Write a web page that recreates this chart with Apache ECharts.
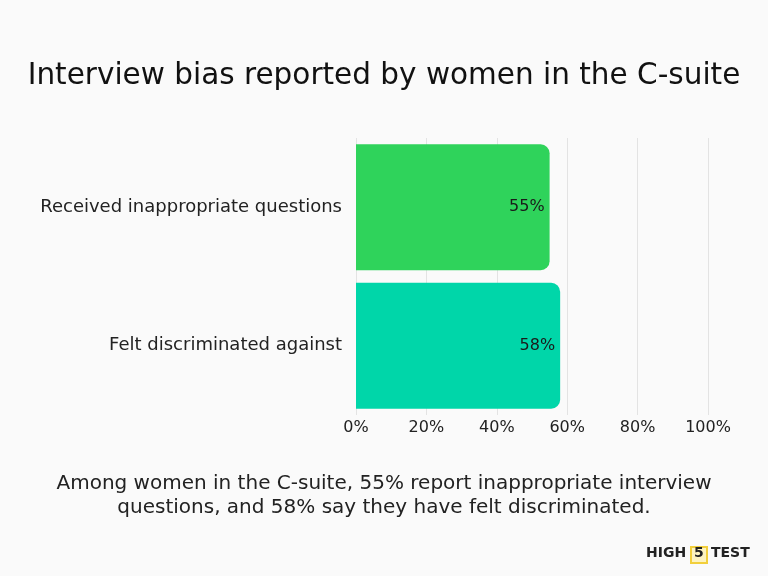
<!DOCTYPE html>
<html>
<head>
<meta charset="utf-8">
<script src="https://cdn.jsdelivr.net/npm/echarts@6/dist/echarts.min.js"></script>
<style>
  html, body { margin: 0; padding: 0; background: #fafafa; }
  #chart { width: 768px; height: 576px; }
</style>
</head>
<body>
<div id="chart"></div>
<script>
// data
const categories = ['Received inappropriate questions', 'Felt discriminated against']
const values = [55, 58]
const barColors = ['#2fd35b', '#00d6a9']
const xTicks = [0, 20, 40, 60, 80, 100]

let myChart = echarts.init(document.querySelector('#chart'))
let font = '"DejaVu Sans", sans-serif'
let option = {
  backgroundColor: '#fafafa',
  title: {
    text: 'Interview bias reported by women in the C-suite',
    left: 'center',
    top: 56,
    textStyle: { fontSize: 29.5, fontWeight: 'normal', color: '#111', fontFamily: font }
  },
  graphic: [
    {
      type: 'text', x: 384, y: 472,
      style: {
        text: 'Among women in the C-suite, 55% report inappropriate interview\nquestions, and 58% say they have felt discriminated.',
        align: 'center', font: '20px ' + font, fill: '#222', lineHeight: 24
      }
    },
    {
      type: 'text', left: 646, top: 546,
      style: { text: 'HIGH', font: 'bold 14px ' + font, fill: '#222' }
    },
    {
      type: 'rect', left: 690, top: 546, shape: { width: 16, height: 16 },
      style: { fill: '#fdf3c0', stroke: '#f2cf3c', lineWidth: 2 }
    },
    {
      type: 'text', left: 694, top: 546,
      style: { text: '5', font: 'bold 14px ' + font, fill: '#222' }
    },
    {
      type: 'text', left: 711, top: 546,
      style: { text: 'TEST', font: 'bold 14px ' + font, fill: '#222' }
    }
  ],
  grid: { left: 356, right: 60, top: 138, bottom: 161, containLabel: false },
  xAxis: {
    type: 'value',
    min: 0,
    max: 100,
    interval: 20,
    axisLine: { show: false },
    axisTick: { show: false },
    splitLine: { lineStyle: { color: '#e3e3e3', width: 1 } },
    axisLabel: {
      formatter: v => xTicks.includes(v) ? v + '%' : '',
      fontSize: 16, color: '#222', margin: 5, fontFamily: font
    }
  },
  yAxis: {
    type: 'category',
    inverse: true,
    data: categories,
    axisLine: { show: false },
    axisTick: { show: false },
    axisLabel: { fontSize: 18, color: '#222', margin: 14, fontFamily: font }
  },
  series: [
    {
      type: 'bar',
      data: values.map((v, i) => ({ value: v, itemStyle: { color: barColors[i] } })),
      barWidth: 126,
      itemStyle: { borderRadius: [0, 9, 9, 0] },
      label: {
        show: true,
        position: 'insideRight',
        distance: 5,
        formatter: '{c}%',
        fontSize: 16,
        color: '#1a1a1a',
        fontFamily: font
      }
    }
  ]
}
myChart.setOption(option)
</script>
</body>
</html>
